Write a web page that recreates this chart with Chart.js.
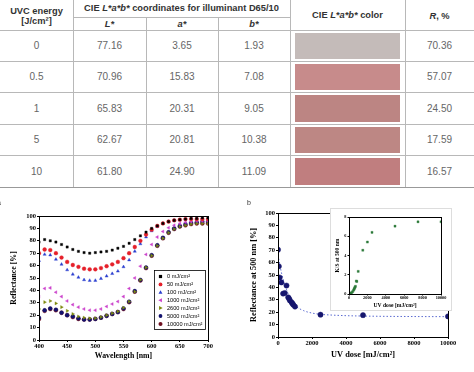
<!DOCTYPE html>
<html>
<head>
<meta charset="utf-8">
<script src="https://cdn.jsdelivr.net/npm/chart.js@4.4.1/dist/chart.umd.min.js"></script>
<style>
  body { margin:0; width:474px; height:372px; background:#fff; position:relative; overflow:hidden;
         font-family:"Liberation Sans", Arial, sans-serif; }
  .vl { position:absolute; width:1px; background:#b8b8b8; }
  .hl { position:absolute; height:1px; background:#b8b8b8; }
  .cell { position:absolute; display:flex; align-items:center; justify-content:center; text-align:center; white-space:nowrap; }
  .hd { font-weight:bold; color:#333; font-size:9.3px; line-height:10px; }
  .dt { color:#666; font-size:10px; }
  canvas { position:absolute; }
  .lbl { position:absolute; font-family:"Liberation Sans", Arial, sans-serif; color:#333; }
</style>
</head>
<body>
<div id="tbl"></div>
<canvas id="chartA" width="237" height="172" style="left:0;top:200px"></canvas>
<canvas id="chartB" width="237" height="177" style="left:237px;top:195px"></canvas>
<div style="position:absolute;left:330px;top:208px;width:122px;height:103px;background:#fff;border:1px solid #ddd;box-sizing:border-box"></div>
<canvas id="chartC" width="122" height="103" style="left:330px;top:208px"></canvas>
<div class="lbl" style="left:-3px;top:199px;font-size:7px">a</div>
<div class="lbl" style="left:247px;top:199px;font-size:7px">b</div>

<script>
// ---------- table data ----------
const uvcEnergy = ['0', '0.5', '1', '5', '10'];
const lStar = ['77.16', '70.96', '65.83', '62.67', '61.80'];
const aStar = ['3.65', '15.83', '20.31', '20.81', '24.90'];
const bStar = ['1.93', '7.08', '9.05', '10.38', '11.09'];
const rPercent = ['70.36', '57.07', '24.50', '17.59', '16.57'];
const labColors = ['#c4bbb9', '#c78b8b', '#bc8583', '#bd8784', '#c07e7f'];

// ---------- panel a data ----------
const wavelengths = [400,410,420,430,440,450,460,470,480,490,500,510,520,530,540,550,560,570,580,590,600,610,620,630,640,650,660,670,680,690,700];
const refl0 = [79,81,80,79,77,75,73,71.5,70.5,70,70.5,71,71.5,72.5,74,75.5,78,81,84,87,90,92,94,95.5,96.5,97,97.5,98,98,98.5,98.5];
const refl50 = [70,73,72.5,70,66.5,63,60.5,59,57.5,57,57,58,59.5,61,63,66,70,75,80,85,89,92,94,95.5,96.5,97,97.5,97.5,97.5,97.5,97.5];
const refl100 = [64,69,68.5,65,61,56.5,53,50.5,48.5,48,48,49.5,51.5,53.5,55.5,59,64.5,71.5,77.5,83,88,91.5,94,95.5,96.5,97,97.5,98,98,98,98];
const refl1000 = [35,41.5,42,38.5,35,31.5,28.5,26.5,25,24,24,25,27,29,31,35,41.5,50,59.5,69,77,83,87.5,90.5,92.5,94,95,95.5,96,96,96];
const refl2600 = [25,30.5,31.5,29.5,26.5,23.5,21,19,18,17.5,17.5,18.5,20,21.5,23,26,31,39,48.5,58.5,68,76,82,86.5,89.5,91.5,92.5,93.5,94,94,94];
const refl5000 = [18,24,25.5,24.5,22,20,19,17.5,16.5,16.5,17,18,19.5,21,22.5,25.5,31,39.5,48.5,58.5,68.5,76.5,82.5,87,90,92,93.5,94.5,95,95.5,95.5];
const refl10000 = [17,23.5,25,24,22,20,18.5,17,16.5,16.5,17,18,19.5,21,22.5,25,30.5,39,48,58,68,76,82,86.5,89.5,91.5,92.5,93.5,94,94,94];
const seriesLabels = ['0 mJ/cm²', '50 mJ/cm²', '100 mJ/cm²', '1000 mJ/cm²', '2600 mJ/cm²', '5000 mJ/cm²', '10000 mJ/cm²'];

// ---------- panel b data ----------
const doses = [0, 50, 100, 200, 300, 400, 500, 600, 650, 700, 800, 850, 900, 1000, 2500, 5000, 10000];
const refl500 = [70.4, 57, 48, 44, 35, 35.5, 41.5, 32, 31, 29.5, 28, 27, 26, 24.5, 18, 17.6, 16.6];
const fitDoses = [0, 200, 400, 600, 800, 1000, 1500, 2000, 2500, 3000, 4000, 5000, 6000, 8000, 10000];
const fitRefl = [66, 52, 42, 35, 29.5, 25.5, 21.3, 19.3, 18.3, 17.8, 17.2, 16.9, 16.7, 16.5, 16.4];

// ---------- inset data ----------
const insetDoses = [0, 100, 200, 300, 400, 500, 550, 600, 650, 700, 800, 850, 1000, 1500, 2000, 2500, 5000, 7500, 10000];
const ksValues = [0.02, 0.05, 0.1, 0.15, 0.25, 0.4, 0.5, 0.6, 0.7, 0.8, 1.35, 1.3, 2.35, 4.55, 5.4, 6.4, 7.05, 7.5, 7.5];

// ==========================================
// 1. TABLE
// ==========================================
const tbl = document.getElementById('tbl');
const colX = [0, 73, 146, 218, 290, 405, 474];
const rowY = [30, 61, 92, 124, 155, 187];

function addEl(cls, style, html) {
    const d = document.createElement('div');
    d.className = cls;
    Object.assign(d.style, style);
    if (html !== undefined) d.innerHTML = html;
    tbl.appendChild(d);
    return d;
}
function cell(cls, x0, x1, y0, y1, html) {
    // span interno para que los espacios alrededor de <i> no se pierdan en flex
    addEl('cell ' + cls, { left: x0 + 'px', width: (x1 - x0) + 'px', top: y0 + 'px', height: (y1 - y0) + 'px' }, '<span>' + html + '</span>');
}

// lines
addEl('hl', { left: '73px', width: '217px', top: '17px' });
rowY.forEach((y, i) => addEl('hl', { left: '0px', width: '474px', top: y + 'px', background: i === rowY.length - 1 ? '#999' : '#b8b8b8' }));
[73, 290, 405].forEach(x => addEl('vl', { left: x + 'px', top: '0px', height: '187px' }));
[146, 218].forEach(x => addEl('vl', { left: x + 'px', top: '17px', height: '170px' }));

// header
cell('hd', 0, 73, 5, 27, 'UVC energy<br>[J/cm²]');
cell('hd', 73, 290, 0, 15, 'CIE <i>L*a*b*</i> coordinates for illuminant D65/10');
cell('hd', 73, 146, 18, 30, '<i>L*</i>');
cell('hd', 146, 218, 18, 30, '<i>a*</i>');
cell('hd', 218, 290, 18, 30, '<i>b*</i>');
cell('hd', 290, 405, 0, 30, 'CIE <i>L*a*b*</i> color');
cell('hd', 405, 474, 0, 31, '<i>R</i>, %');

// rows
uvcEnergy.forEach((e, i) => {
    const y0 = rowY[i], y1 = rowY[i + 1];
    cell('dt', colX[0], colX[1], y0, y1, e);
    cell('dt', colX[1], colX[2], y0, y1, lStar[i]);
    cell('dt', colX[2], colX[3], y0, y1, aStar[i]);
    cell('dt', colX[3], colX[4], y0, y1, bStar[i]);
    addEl('', { position: 'absolute', left: '295px', width: '105px', top: (y0 + 2.5) + 'px', height: (y1 - y0 - 4.5) + 'px', background: labColors[i] });
    cell('dt', colX[5], colX[6], y0, y1, rPercent[i]);
});

// ==========================================
// 2. CHARTS
// ==========================================
Chart.defaults.animation = false;
Chart.defaults.responsive = false;
Chart.defaults.devicePixelRatio = 1;
Chart.defaults.color = '#000';

const serif = 'Liberation Serif, Times New Roman, serif';

// marco completo alrededor del área de datos
const frame = {
    id: 'frame',
    afterDraw(chart) {
        const { ctx, chartArea: a } = chart;
        ctx.save();
        ctx.strokeStyle = '#000';
        ctx.lineWidth = 1;
        ctx.strokeRect(Math.round(a.left) + 0.5, Math.round(a.top) + 0.5, Math.round(a.right - a.left), Math.round(a.bottom - a.top));
        ctx.restore();
    }
};

function drawMarker(ctx, style, r, rot, x, y) {
    ctx.save();
    ctx.translate(x, y);
    ctx.rotate(rot * Math.PI / 180);
    ctx.beginPath();
    if (style === 'rect') {
        ctx.rect(-r, -r, 2 * r, 2 * r);
    } else if (style === 'triangle') {
        ctx.moveTo(0, -r * 1.2);
        ctx.lineTo(r * 1.1, r * 0.8);
        ctx.lineTo(-r * 1.1, r * 0.8);
        ctx.closePath();
    } else {
        ctx.arc(0, 0, r, 0, Math.PI * 2);
    }
    ctx.fill();
    ctx.restore();
}

function axis(opts) {
    return {
        type: 'linear',
        min: opts.min, max: opts.max,
        border: { display: true, color: '#000', width: 1 },
        grid: { display: true, drawOnChartArea: false, drawTicks: true, tickLength: opts.tickLen, color: '#000' },
        ticks: { stepSize: opts.step, padding: opts.pad, maxRotation: 0, autoSkip: false,
                 callback: v => String(v),
                 font: { family: serif, size: opts.font, weight: 'bold' }, color: '#000' },
        title: { display: true, text: opts.title, color: '#000',
                 font: { family: serif, size: opts.titleSize, weight: 'bold' }, padding: opts.titlePad },
        afterFit(s) { if (opts.width !== undefined) s.width = opts.width; if (opts.height !== undefined) s.height = opts.height; }
    };
}

// ---- panel a ----
const seriesA = [refl0, refl50, refl100, refl1000, refl2600, refl5000, refl10000];
const stylesA = [
    { color: '#000000', shape: 'rect', rot: 0, r: 1.6 },
    { color: '#e5202a', shape: 'circle', rot: 0, r: 1.9 },
    { color: '#2b3fd0', shape: 'triangle', rot: 0, r: 1.8 },
    { color: '#cc44cc', shape: 'triangle', rot: -90, r: 1.8 },
    { color: '#7f8a10', shape: 'triangle', rot: 90, r: 1.8 },
    { color: '#12126e', shape: 'circle', rot: 0, r: 1.9 },
    { color: '#6e1020', shape: 'circle', rot: 0, r: 2.0 }
];

const boxLegend = {
    id: 'boxLegend',
    afterDraw(chart) {
        const { ctx, chartArea: a } = chart;
        const x0 = Math.round(a.right) - 53.5, y0 = Math.round(a.top) + 54.5, w = 51, h = 59;
        ctx.save();
        ctx.fillStyle = '#fff';
        ctx.fillRect(x0, y0, w, h);
        ctx.strokeStyle = '#000';
        ctx.lineWidth = 0.8;
        ctx.strokeRect(x0, y0, w, h);
        ctx.font = '5.6px "Liberation Sans", Arial, sans-serif';
        ctx.textBaseline = 'middle';
        seriesLabels.forEach((t, i) => {
            const y = y0 + 6 + i * 7.9;
            const st = stylesA[i];
            ctx.fillStyle = st.color;
            drawMarker(ctx, st.shape, st.r, st.rot, x0 + 6, y);
            ctx.fillStyle = '#000';
            ctx.fillText(t, x0 + 12.5, y + 0.3);
        });
        ctx.restore();
    }
};

new Chart(document.getElementById('chartA'), {
    type: 'scatter',
    data: {
        datasets: seriesA.map((vals, i) => ({
            label: seriesLabels[i],
            data: vals.map((v, k) => ({ x: wavelengths[k], y: v })),
            pointStyle: stylesA[i].shape,
            pointRotation: stylesA[i].rot,
            pointRadius: stylesA[i].r,
            pointBackgroundColor: stylesA[i].color,
            pointBorderColor: stylesA[i].color,
            pointBorderWidth: 0.4
        }))
    },
    options: {
        layout: { padding: { left: 0, right: 29, top: 16, bottom: 0 } },
        plugins: { legend: { display: false }, tooltip: { enabled: false } },
        scales: {
            x: axis({ min: 400, max: 700, step: 50, tickLen: 2, pad: 0, font: 6.5, title: 'Wavelength [nm]', titleSize: 7.8, titlePad: { bottom: 11 }, height: 32 }),
            y: axis({ min: 0, max: 100, step: 10, tickLen: 2, pad: 1, font: 6.5, title: 'Reflectance [%]', titleSize: 7.8, titlePad: { top: 9.5 }, width: 39 })
        }
    },
    plugins: [frame, boxLegend]
});

// ---- panel b ----
new Chart(document.getElementById('chartB'), {
    type: 'scatter',
    data: {
        datasets: [
            {
                label: 'R500',
                data: doses.map((d, k) => ({ x: d, y: refl500[k] })),
                pointStyle: 'circle',
                pointRadius: 2.6,
                pointBackgroundColor: '#16166e',
                pointBorderColor: '#16166e',
                pointBorderWidth: 0.5
            },
            {
                label: 'fit',
                data: fitDoses.map((d, k) => ({ x: d, y: fitRefl[k] })),
                showLine: true,
                pointRadius: 0,
                borderColor: '#5a6ad0',
                borderWidth: 1,
                borderDash: [1.5, 2],
                cubicInterpolationMode: 'monotone'
            }
        ]
    },
    options: {
        layout: { padding: { left: 0, right: 26, top: 18, bottom: 0 } },
        plugins: { legend: { display: false }, tooltip: { enabled: false } },
        scales: {
            x: axis({ min: 0, max: 10000, step: 2000, tickLen: 2, pad: 0, font: 6.5, title: 'UV dose [mJ/cm²]', titleSize: 8.3, titlePad: { bottom: 12 }, height: 35 }),
            y: axis({ min: 0, max: 100, step: 10, tickLen: 2, pad: 1, font: 6.5, title: 'Reflectance at 500 nm [%]', titleSize: 8.3, titlePad: { top: 12 }, width: 41 })
        }
    },
    plugins: [frame]
});

// ---- inset ----
new Chart(document.getElementById('chartC'), {
    type: 'scatter',
    data: {
        datasets: [{
            label: 'K/S',
            data: insetDoses.map((d, k) => ({ x: d, y: ksValues[k] })),
            pointStyle: 'rect',
            pointRadius: 1.5,
            pointBackgroundColor: '#2d7a3a',
            pointBorderColor: '#2d7a3a',
            pointBorderWidth: 0.3
        }]
    },
    options: {
        layout: { padding: { left: 0, right: 11, top: 9, bottom: 0 } },
        plugins: { legend: { display: false }, tooltip: { enabled: false } },
        scales: {
            x: axis({ min: 0, max: 10000, step: 2000, tickLen: 1.5, pad: 0, font: 4.3, title: 'UV dose [mJ/cm²]', titleSize: 5.6, titlePad: { bottom: 2 }, height: 17 }),
            y: axis({ min: 0, max: 8, step: 2, tickLen: 1.5, pad: 1, font: 4.3, title: 'K/S at 500 nm', titleSize: 5.6, titlePad: { top: 4.5 }, width: 19 })
        }
    },
    plugins: [frame]
});
</script>
</body>
</html>
